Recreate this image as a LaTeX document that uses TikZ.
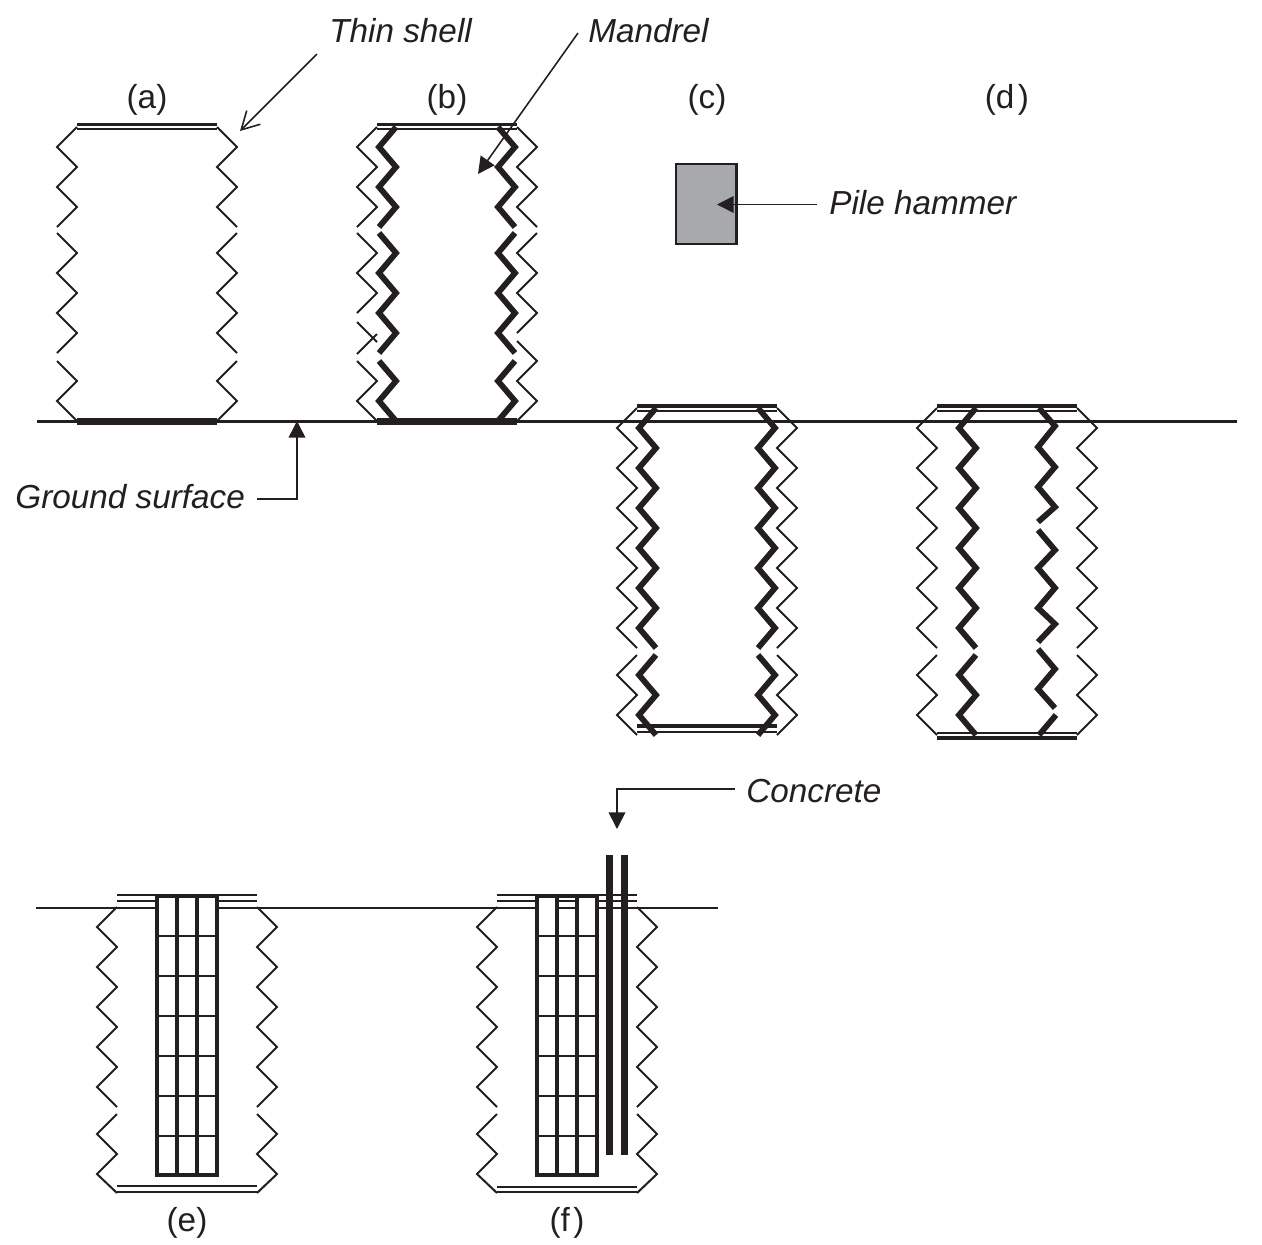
\documentclass[tikz,border=0pt]{standalone}
\usepackage{fontspec}
\setmainfont{Liberation Sans}
\usetikzlibrary{arrows.meta}
\definecolor{ink}{HTML}{231F20}
\definecolor{hammerfill}{HTML}{A7A9AC}
\tikzset{
  x=0.02cm,y=-0.02cm,
  thin zig/.style={draw=ink,line width=1.15pt},
  thick zig/.style={draw=ink,line width=3.3pt},
  plate/.style={draw=ink,line width=1.4pt},
  plate thick/.style={draw=ink,line width=1.8pt},
  ground/.style={draw=ink,line width=1.5pt},
  ground thin/.style={draw=ink,line width=1.15pt},
  lead/.style={draw=ink,line width=0.9pt},
  solid tip/.style={-{Triangle[length=9.5pt,width=9.5pt]}},
  open tip/.style={-{Straight Barb[length=10pt,width=11pt,line width=0.9pt]}},
  note/.style={font=\fontsize{18.95pt}{22pt}\selectfont\itshape,text=ink,inner sep=0pt},
  tag/.style={font=\fontsize{18.95pt}{22pt}\selectfont,text=ink,inner sep=0pt},
  cage major/.style={draw=ink,line width=1.8pt},
  cage minor/.style={draw=ink,line width=1.3pt},
  bar/.style={draw=ink,line width=4pt},
}
% #1 style, #2 inner x, #3 outer x
\newcommand{\sideA}[3]{%
  \draw[#1] (#2,127)--(#3,147)--(#2,167)--(#3,187)--(#2,207)--(#3,227);
  \draw[#1] (#3,233)--(#2,253)--(#3,273)--(#2,293)--(#3,313)--(#2,333)--(#3,353);
  \draw[#1] (#3,361)--(#2,381)--(#3,401)--(#2,421);}
\newcommand{\sideC}[3]{%
  \draw[#1] (#2,408)--(#3,428)--(#2,448)--(#3,468)--(#2,488)--(#3,508)--(#2,528)--(#3,548)--(#2,568)--(#3,588)--(#2,608)--(#3,628)--(#2,648);
  \draw[#1] (#2,655)--(#3,675)--(#2,695)--(#3,715)--(#2,735);}
\newcommand{\sideE}[3]{%
  \draw[#1] (#2,907)--(#3,927)--(#2,947)--(#3,967)--(#2,987)--(#3,1007)--(#2,1027)--(#3,1047)--(#2,1067)--(#3,1087)--(#2,1107);
  \draw[#1] (#2,1114)--(#3,1134)--(#2,1154)--(#3,1174)--(#2,1193);}
% #1 left x of cage
\newcommand{\cageLines}[1]{%
  \foreach \yy in {936,976,1016,1056,1096,1136}{
    \draw[cage minor] (#1,\yy)--++(60,0);}
  \foreach \dx in {20,40}{\draw[cage major] ({#1+\dx},896)--({#1+\dx},1175);}
  \draw[cage major] (#1,896) rectangle ({#1+60},1175);}
\begin{document}
\begin{tikzpicture}
\useasboundingbox (0,0) rectangle (1262,1245);
\fill[white] (0,0) rectangle (1262,1245);

% ground surfaces
\coordinate (g1l) at (37,421.5); \coordinate (g1r) at (1237,421.5);
\draw[ground] (g1l)--(g1r);
\coordinate (g2l) at (36,907.5); \coordinate (g2r) at (718,907.5);
\draw[ground thin] (g2l)--(g2r);

% pile (a)
\draw[plate] (77,124.5)--(217,124.5) (77,129)--(217,129);
\draw[plate thick] (77,419.5)--(217,419.5) (77,423.5)--(217,423.5);
\sideA{thin zig}{77}{57}
\sideA{thin zig}{217}{237}

% pile (b)
\draw[plate] (377,124.5)--(517,124.5) (377,129)--(517,129);
\draw[plate thick] (377,419.5)--(517,419.5) (377,423.5)--(517,423.5);
% thin left
\draw[thin zig] (377,127)--(357,147)--(377,167)--(357,187)--(377,207)--(357,227);
\draw[thin zig] (357,233)--(377,253)--(357,273)--(377,293)--(357,313);
\draw[thin zig] (357,322)--(377,342);
\draw[thin zig] (377,334)--(357,354);
\draw[thin zig] (357,361)--(377,381)--(357,401)--(377,421);
% thin right
\draw[thin zig] (517,127)--(537,147)--(517,167)--(537,187)--(517,207)--(537,227);
\draw[thin zig] (537,233)--(517,253)--(537,273)--(517,293)--(537,313)--(517,333);
\draw[thin zig] (517,341)--(537,361)--(517,381)--(537,401)--(517,421);
\sideA{thick zig}{396}{379}
\sideA{thick zig}{498}{515}

% pile (c)
\draw[plate thick] (637,406)--(777,406);
\draw[plate] (637,411)--(777,411);
\draw[plate thick] (637,726)--(777,726);
\draw[plate] (637,732)--(777,732);
\sideC{thin zig}{637}{617}
\sideC{thin zig}{777}{797}
\sideC{thick zig}{656}{639}
\sideC{thick zig}{758}{775}

% pile (d)
\draw[plate thick] (937,406)--(1077,406);
\draw[plate] (937,411)--(1077,411);
\draw[plate] (937,733)--(1077,733);
\draw[plate thick] (937,738)--(1077,738);
\sideC{thin zig}{937}{917}
\sideC{thin zig}{1077}{1097}
\sideC{thick zig}{976}{959}
\draw[thick zig] (1039,408)--(1055,426)--(1038,447)--(1055,467)--(1038,487)--(1055,507)--(1038,522);
\draw[thick zig] (1038,530)--(1055,550)--(1038,568)--(1055,588)--(1038,608)--(1055,624)--(1038,642);
\draw[thick zig] (1038,649)--(1055,669)--(1038,689)--(1055,708);
\draw[thick zig] (1056,715)--(1039,735);

% pile (e)
\draw[plate] (117,895)--(257,895) (117,901)--(257,901);
\draw[plate] (117,1186)--(257,1186) (117,1192)--(257,1192);
\sideE{thin zig}{117}{97}
\sideE{thin zig}{257}{277}
\fill[white] (157,896) rectangle (217,1175);
\cageLines{157}

% pile (f)
\draw[plate] (497,895)--(637,895) (497,901)--(637,901);
\draw[plate] (497,1187)--(637,1187) (497,1192)--(637,1192);
\sideE{thin zig}{497}{477}
\sideE{thin zig}{637}{657}
\fill[white] (537,896) rectangle (557,1175);
\fill[white] (577,896) rectangle (597,1175);
\fill[white] (557,908.5) rectangle (577,1175);
\cageLines{537}
\coordinate (b1t) at (609.5,855); \coordinate (b1b) at (609.5,1155);
\coordinate (b2t) at (624.5,855); \coordinate (b2b) at (624.5,1155);
\draw[bar] (b1t)--(b1b);
\draw[bar] (b2t)--(b2b);

% hammer
\node[draw=ink,fill=hammerfill,line width=1.4pt,minimum width=1.205cm,minimum height=1.59cm,inner sep=0pt] (hammer) at (706.3,204) {};

% tags
\node[tag] (ta) at (147,100) {(a)};
\node[tag] (tb) at (447,100) {(b)};
\node[tag] (tc) at (707,100) {(c)};
\node[tag] (td) at (1007,100) {(d\kern2pt)};
\node[tag] (te) at (187,1223) {(e)};
\node[tag] (tf) at (567,1223) {(f\kern2pt)};

% notes and leaders
\node[note,anchor=base west] (nthin) at (329,42) {Thin shell};
\node[note,anchor=base west] (nmand) at (588,42) {Mandrel};
\node[note,anchor=base west] (nham) at (829,214) {Pile hammer};
\node[note,anchor=base west] (nground) at (15,508) {Ground surface};
\node[note,anchor=base west] (nconc) at (746,802) {Concrete};

\coordinate (thinS) at (317,54); \coordinate (thinE) at (240,131);
\draw[lead,open tip] (thinS)--(thinE);
\coordinate (mandS) at (578,33); \coordinate (mandE) at (478,174);
\draw[lead,solid tip] (mandS)--(mandE);
\coordinate (hamS) at (817,204.5); \coordinate (hamE) at (717,204.5);
\draw[lead,solid tip] (hamS)--(hamE);
\coordinate (grS) at (257,499); \coordinate (grM) at (297,499); \coordinate (grE) at (297,421);
\draw[lead,solid tip] (grS)--(grM)--(grE);
\coordinate (coS) at (735,789); \coordinate (coM) at (617,789); \coordinate (coE) at (617,829);
\draw[lead,solid tip] (coS)--(coM)--(coE);
\end{tikzpicture}
\end{document}
